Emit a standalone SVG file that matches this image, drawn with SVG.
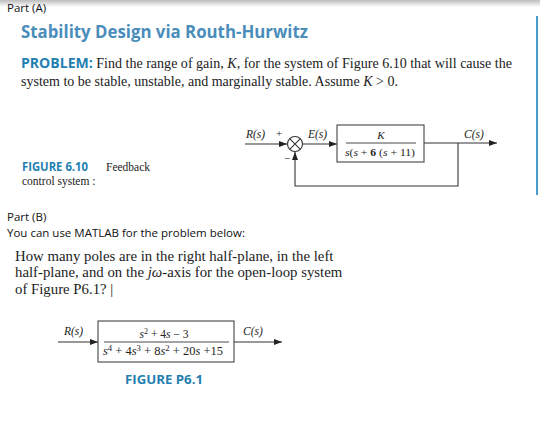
<svg xmlns="http://www.w3.org/2000/svg" width="540" height="432" viewBox="0 0 540 432">
<style>
.ui{font-family:"Open Sans","Liberation Sans",sans-serif;font-size:11.5px;fill:#111}
.ttl{font-family:"Open Sans","Liberation Sans",sans-serif;font-weight:bold;fill:#4a8dba}
.hd{font-family:"Open Sans","Liberation Sans",sans-serif;font-weight:bold;fill:#1f7fb0}
.tm{font-family:"Liberation Serif","DejaVu Serif",serif;fill:#222}
.it{font-family:"Liberation Serif","DejaVu Serif",serif;font-style:italic;fill:#222}
.ln{stroke:#333;stroke-width:1.1;fill:none}
</style>
<defs>
<marker id="ah" markerWidth="8" markerHeight="6" refX="8" refY="3" orient="auto" markerUnits="userSpaceOnUse">
<path d="M0,0 L8,3 L0,6 Z" fill="#222"/>
</marker>
<linearGradient id="sh" x1="0" y1="0" x2="0" y2="1">
<stop offset="0" stop-color="#bdbdbd"/>
<stop offset="1" stop-color="#ffffff"/>
</linearGradient>
</defs>
<rect width="540" height="432" fill="#fff"/>
<rect width="540" height="7" fill="url(#sh)"/>
<line x1="537" y1="16" x2="537" y2="195" stroke="#4a9ccc" stroke-width="2"/>

<text class="ui" x="7" y="12">Part (A)</text>
<text class="ttl" x="21" y="38" font-size="18" textLength="287" lengthAdjust="spacingAndGlyphs">Stability Design via Routh-Hurwitz</text>
<text x="21" y="68" font-size="14" textLength="491" lengthAdjust="spacingAndGlyphs"><tspan class="hd">PROBLEM:</tspan><tspan class="tm"> Find the range of gain, </tspan><tspan class="it">K</tspan><tspan class="tm">, for the system of Figure 6.10 that will cause the</tspan></text>
<text x="21" y="86" font-size="14" textLength="377" lengthAdjust="spacingAndGlyphs"><tspan class="tm">system to be stable, unstable, and marginally stable. Assume </tspan><tspan class="it">K</tspan><tspan class="tm"> &gt; 0.</tspan></text>

<g id="fig610caption">
<text x="22" y="171" font-size="11.5"><tspan class="hd" textLength="66" lengthAdjust="spacingAndGlyphs">FIGURE 6.10</tspan><tspan class="tm" dx="18">Feedback</tspan></text>
<text class="tm" x="22" y="185" font-size="11.5">control system :</text>
</g>

<g id="connectors">
<line class="ln" x1="245" y1="144" x2="287" y2="144" marker-end="url(#ah)"/>
<line class="ln" x1="302.5" y1="144" x2="337" y2="144" marker-end="url(#ah)"/>
<line class="ln" x1="424" y1="143" x2="497" y2="143" marker-end="url(#ah)"/>
<polyline class="ln" points="458,143 458,186 295,186 295,152" marker-end="url(#ah)"/>
<line class="ln" x1="58" y1="342" x2="98" y2="342" marker-end="url(#ah)"/>
<line class="ln" x1="234" y1="342" x2="282" y2="342" marker-end="url(#ah)"/>
</g>

<g id="sum">
<circle cx="295" cy="144" r="7.5" fill="#fff" stroke="#333" stroke-width="1.1"/>
<path d="M289.7,138.7 L300.3,149.3 M300.3,138.7 L289.7,149.3" stroke="#333" stroke-width="1.1"/>
<text class="tm" x="276" y="137" font-size="11">+</text>
<text class="tm" x="284" y="162" font-size="11">−</text>
</g>
<text class="it" x="246" y="138" font-size="11.5">R(s)</text>
<text class="it" x="308" y="138" font-size="11.5">E(s)</text>
<text class="it" x="464" y="138" font-size="11.5">C(s)</text>

<g id="plant610">
<rect x="337" y="125" width="87" height="37" fill="#fff" stroke="#444" stroke-width="1.1"/>
<text class="it" x="381" y="139" font-size="11" text-anchor="middle">K</text>
<line x1="346" y1="143" x2="416" y2="143" stroke="#333" stroke-width="0.9"/>
<text x="345" y="156" font-size="11" textLength="70" lengthAdjust="spacingAndGlyphs"><tspan class="it">s</tspan><tspan class="tm">(</tspan><tspan class="it">s</tspan><tspan class="tm"> + </tspan><tspan class="tm" font-weight="bold" font-family="Liberation Sans">6</tspan><tspan class="tm"> (</tspan><tspan class="it">s</tspan><tspan class="tm"> + 11)</tspan></text>
</g>

<text class="ui" x="7" y="221">Part (B)</text>
<text class="ui" x="7" y="237">You can use MATLAB for the problem below:</text>
<text class="tm" x="15" y="261" font-size="14.8">How many poles are in the right half-plane, in the left</text>
<text x="15" y="277" font-size="14.8"><tspan class="tm">half-plane, and on the </tspan><tspan class="it">jω</tspan><tspan class="tm">-axis for the open-loop system</tspan></text>
<text class="tm" x="15" y="294" font-size="14.8">of Figure P6.1? |</text>

<text class="it" x="64" y="335" font-size="11.5">R(s)</text>
<text class="it" x="243" y="335" font-size="11.5">C(s)</text>
<g id="plantP61">
<rect x="98" y="321" width="136" height="41" fill="#fff" stroke="#444" stroke-width="1.1"/>
<text x="164" y="338" font-size="11.5" text-anchor="middle"><tspan class="it">s</tspan><tspan class="tm" font-size="8" dy="-4">2</tspan><tspan class="tm" dy="4"> + 4</tspan><tspan class="it">s</tspan><tspan class="tm"> − 3</tspan></text>
<line x1="104" y1="342" x2="229" y2="342" stroke="#333" stroke-width="0.9"/>
<text x="103" y="355" font-size="11.5" textLength="120" lengthAdjust="spacingAndGlyphs"><tspan class="it">s</tspan><tspan class="tm" font-size="8" dy="-4">4</tspan><tspan class="tm" dy="4"> + 4</tspan><tspan class="it">s</tspan><tspan class="tm" font-size="8" dy="-4">3</tspan><tspan class="tm" dy="4"> + 8</tspan><tspan class="it">s</tspan><tspan class="tm" font-size="8" dy="-4">2</tspan><tspan class="tm" dy="4"> + 20</tspan><tspan class="it">s</tspan><tspan class="tm"> +15</tspan></text>
</g>
<text class="hd" x="164" y="384" font-size="13" text-anchor="middle" textLength="78" lengthAdjust="spacingAndGlyphs">FIGURE P6.1</text>
</svg>
